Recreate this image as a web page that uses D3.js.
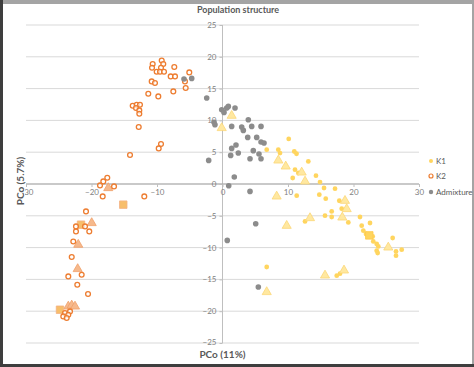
<!DOCTYPE html>
<html><head><meta charset="utf-8">
<script src="https://cdn.jsdelivr.net/npm/d3@7/dist/d3.min.js"></script>
<style>
html,body{margin:0;padding:0;background:#444;}
svg{display:block;font-family:Lato,"Open Sans",sans-serif;}
</style></head><body>
<svg id="c" width="474" height="367"></svg>
<script>
// ---- data ----
const titleText = "Population structure";
const xTitle = "PCo (11%)";
const yTitle = "PCo (5.7%)";
const xTicks = [-30,-20,-10,0,10,20,30];
const yTicks = [-25,-20,-15,-10,-5,0,5,10,15,20,25];
const legendNames = ["K1","K2","Admixture"];

const k1Circles = [[6.75,5.39],[8.52,5.39],[8.78,4.87],[10.11,7.08],[10.96,5.11],[11.3,4.76],[13.1,3.55],
 [11.07,2.25],[11.57,1.73],[10.72,0.94],[14.27,1.31],[14.89,0.31],[15.5,-0.63],[17.18,-0.74],[14.78,-1.68],
 [15.76,-2.31],[11.33,-1.84],[17.83,-2.63],[16.67,-4.31],[18.2,-3.88],[15.65,-4.98],[16.67,-5.19],[12.6,-5.88],
 [19.21,-6.04],[20.99,-5.19],[22.52,-6.13],[21.25,-6.56],[21.5,-7.34],[21.91,-7.86],[22.93,-8.24],[25.98,-8.49],
 [23.02,-9.03],[23.54,-9.43],[23.79,-9.81],[23.54,-10.49],[23.69,-10.85],[26.49,-10.6],[27.36,-10.33],
 [26.49,-11.27],[6.75,-13.05],[17.44,-14.42],[17.94,-14.1]];
const k1Triangles = [[1.4,10.74],[-0.12,8.81],[8.52,3.71],[9.65,2.77],[12.09,1.82],[12.6,0.41],[8.27,-1.95],
 [18.7,-2.63],[18.96,-3.93],[18.29,-5.25],[13.36,-5.35],[9.8,-6.56],[25.31,-9.97],[15.65,-14.37],[18.55,-13.58],
 [6.75,-16.98]];
const k1Squares = [[22.41,-8.08]];

const k2Circles = [[-9.28,19.43],[-10.66,18.87],[-9.04,18.87],[-10.76,18.29],[-9.39,18.29],[-7.36,18.4],
 [-10.05,17.66],[-9.54,17.66],[-8.93,17.66],[-5.07,17.55],[-7.91,16.92],[-7.25,16.92],[-10.81,16.13],
 [-10.31,15.88],[-5.73,16.13],[-5.62,15.09],[-7.51,14.56],[-11.33,14.2],[-9.8,13.77],[-13.71,12.31],
 [-13.1,12.47],[-12.6,12.47],[-13.21,11.95],[-12.7,11.57],[-12.7,11.05],[-12.79,8.96],[-9.39,6.29],
 [-9.74,5.6],[-14.12,4.56],[-17.59,0.99],[-18.2,0.41],[-18.7,-0.22],[-16.56,-0.38],[-18.29,-1.95],
 [-11.94,-1.95],[-20.84,-4.31],[-22.37,-6.67],[-20.99,-6.67],[-20.34,-7.45],[-22.37,-7.45],[-22.78,-9.03],
 [-23.02,-11.48],[-21.5,-14.26],[-23.54,-14.53],[-22.17,-15.83],[-20.53,-17.3],[-23.28,-20.03],
 [-24.05,-20.28],[-23.54,-20.55],[-24.31,-20.82],[-23.79,-21.07]];
const k2Triangles = [[-17.44,-0.63],[-19.97,-6.13],[-22.02,-9.54],[-22.11,-13.36],[-23.54,-19.25],
 [-23.02,-19.09],[-22.52,-19.25]];
const k2Squares = [[-15.15,-3.25],[-21.6,-6.4],[-24.81,-19.77]];

const admixture = [[-5.88,16.51],[-4.7,16.6],[-2.41,13.52],[-0.12,11.68],[0.64,11.95],[0.89,12.2],[0.23,11.26],
 [1.91,11.95],[-1.3,9.69],[-1.15,9.31],[1.4,9.06],[2.93,8.96],[3.18,8.43],[3.94,10.11],[4.46,9.06],[5.88,9.06],
 [3.85,7.33],[5.22,7.33],[5.88,6.6],[6.34,6.45],[2.06,6.13],[1.4,5.6],[2.41,4.87],[1.25,4.5],[4.7,5.24],
 [5.57,4.72],[4.2,3.98],[5.88,3.98],[-2.11,3.71],[1.8,1.1],[0.95,-0.27],[4.2,-1.16],[5.07,-6.24],[0.73,-8.87],
 [5.47,-16.19]];

// ---- colours ----
const cK1 = "#FFD55F", cK1tri = "#FFE8A0", cK1triS = "#FBD777";
const cK2 = "#ED7D31", cK2tri = "#F6B98C", cK2sq = "#F7BE6B";
const cAdm = "#8C8C8C";

const svg = d3.select("#c");
// frame
svg.append("rect").attr("width",474).attr("height",367).attr("fill","#3e3e3e");
svg.append("rect").attr("x",3).attr("y",0).attr("width",471).attr("height",364).attr("fill","#a4a4a4");
svg.append("rect").attr("x",3).attr("y",4).attr("width",469).attr("height",360).attr("fill","#ffffff");

const x = d3.scaleLinear().domain([-30,30]).range([26,419]);
const y = d3.scaleLinear().domain([-25,25]).range([343,25]);

// gridlines
svg.append("g").selectAll("line").data(yTicks).join("line")
  .attr("x1",x(-30)).attr("x2",x(30)).attr("y1",d=>y(d)).attr("y2",d=>y(d))
  .attr("stroke","#d9d9d9").attr("stroke-width",1);

// axis lines
svg.append("line").attr("x1",x(0)).attr("x2",x(0)).attr("y1",y(25)).attr("y2",y(-25))
  .attr("stroke","#bfbfbf").attr("stroke-width",1);
svg.append("line").attr("x1",x(-30)).attr("x2",x(30)).attr("y1",y(0)).attr("y2",y(0))
  .attr("stroke","#a6a6a6").attr("stroke-width",1);

const yAxis = svg.append("g").attr("transform",`translate(${x(0)},0)`)
  .call(d3.axisLeft(y).tickValues(yTicks).tickSize(3).tickPadding(3).tickFormat(d3.format("d")));
const xAxis = svg.append("g").attr("transform",`translate(0,${y(0)})`)
  .call(d3.axisBottom(x).tickValues(xTicks).tickSize(3).tickPadding(3).tickFormat(d3.format("d")));
[yAxis,xAxis].forEach(a=>{
  a.select(".domain").remove();
  a.selectAll(".tick line").attr("stroke","#bfbfbf");
  a.selectAll(".tick text").attr("fill","#7f7f7f").style("font-size","8px").style("font-family","Lato, sans-serif");
});
xAxis.selectAll(".tick text").attr("dy","0.6em");
yAxis.selectAll(".tick text").filter(d=>d===-25).attr("dy","0.2em");

// markers
const g = svg.append("g");
const tri = d3.symbol().type(d3.symbolTriangle).size(36);
const sq = d3.symbol().type(d3.symbolSquare).size(56);

g.append("g").selectAll("path").data(k2Triangles).join("path")
  .attr("d",tri).attr("transform",d=>`translate(${x(d[0])},${y(d[1])})`)
  .attr("fill",cK2tri).attr("stroke","#F0A069").attr("stroke-width",0.8);
g.append("g").selectAll("path").data(k2Squares).join("path")
  .attr("d",sq).attr("transform",d=>`translate(${x(d[0])},${y(d[1])})`)
  .attr("fill",cK2sq).attr("stroke","#F4B183").attr("stroke-width",0.8);
g.append("g").selectAll("circle").data(k2Circles).join("circle")
  .attr("cx",d=>x(d[0])).attr("cy",d=>y(d[1])).attr("r",2.4)
  .attr("fill","#fff").attr("fill-opacity",0.6).attr("stroke",cK2).attr("stroke-width",1.3);

g.append("g").selectAll("circle").data(admixture).join("circle")
  .attr("cx",d=>x(d[0])).attr("cy",d=>y(d[1])).attr("r",2.8).attr("fill",cAdm);

g.append("g").selectAll("circle").data(k1Circles).join("circle")
  .attr("cx",d=>x(d[0])).attr("cy",d=>y(d[1])).attr("r",2.4).attr("fill",cK1);
g.append("g").selectAll("path").data(k1Triangles).join("path")
  .attr("d",tri).attr("transform",d=>`translate(${x(d[0])},${y(d[1])})`)
  .attr("fill",cK1tri).attr("stroke",cK1triS).attr("stroke-width",0.8);
g.append("g").selectAll("path").data(k1Squares).join("path")
  .attr("d",sq).attr("transform",d=>`translate(${x(d[0])},${y(d[1])})`)
  .attr("fill",cK1).attr("stroke","#FFC94A").attr("stroke-width",0.8);

// title
svg.append("text").attr("x",238).attr("y",13).attr("text-anchor","middle")
  .attr("fill","#595959").style("font-size","9px").style("font-weight","bold").text(titleText);

// axis titles
const yt = svg.append("g").attr("transform","translate(20,181) rotate(-90)");
yt.append("rect").attr("x",-30).attr("y",-7).attr("width",60).attr("height",12).attr("fill","#fff");
yt.append("text").attr("text-anchor","middle").attr("dy","0.35em")
  .attr("fill","#595959").style("font-size","10px").style("font-weight","bold").text(yTitle);
svg.append("text").attr("x",x(0)).attr("y",358).attr("text-anchor","middle")
  .attr("fill","#595959").style("font-size","10px").style("font-weight","bold").text(xTitle);

// legend
const leg = svg.append("g");
const legY = [161,176,192];
legendNames.forEach((n,i)=>{
  const gy = legY[i];
  if(i===0) leg.append("circle").attr("cx",431).attr("cy",gy).attr("r",2).attr("fill",cK1);
  if(i===1) leg.append("circle").attr("cx",431).attr("cy",gy).attr("r",2).attr("fill","#fff").attr("stroke",cK2).attr("stroke-width",1.2);
  if(i===2) leg.append("circle").attr("cx",431).attr("cy",gy).attr("r",2.2).attr("fill",cAdm);
  leg.append("text").attr("x",436).attr("y",gy).attr("dy","0.35em").attr("fill","#595959")
    .style("font-size","8px").text(n);
});
</script>
</body></html>
